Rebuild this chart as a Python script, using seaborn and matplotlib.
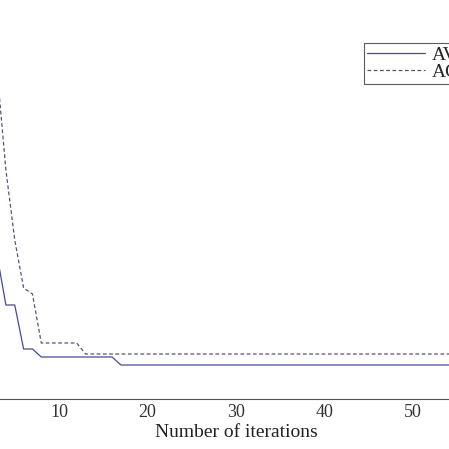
import matplotlib
matplotlib.use("Agg")
import matplotlib.pyplot as plt
import seaborn as sns
import pandas as pd
from matplotlib.lines import Line2D

iters = list(range(1, 61))
avns = [200, 180, 145, 95, 95, 51, 51, 43, 43, 43, 43, 43, 43, 43, 43, 43] + [35] * 44
aca = [420, 390, 330, 230, 160, 112, 106, 57, 57, 57, 57, 57] + [46] * 48

df = pd.DataFrame({"it": iters * 2, "val": avns + aca,
                   "alg": ["AVNS"] * 60 + ["ACA"] * 60})

sns.set_style("white")
plt.rcParams["font.family"] = ["Liberation Serif", "DejaVu Serif"]

fig = plt.figure(figsize=(4.49, 4.49), dpi=100)
ax = fig.add_axes([-29.5 / 449, 50 / 449, (60 * 8.85) / 449, 449 / 449])
sns.lineplot(data=df, x="it", y="val", hue="alg", style="alg",
             palette={"AVNS": "#4848a0", "ACA": "#555570"},
             dashes={"AVNS": "", "ACA": (3, 2)}, linewidth=0.9, ax=ax, legend=False)
ax.set_xlim(0, 60)
ax.set_ylim(1, 450)
ax.set_xticks([10, 20, 30, 40, 50, 60])
ax.set_yticks([])
ax.tick_params(axis="x", direction="in", length=4, labelsize=13, colors="#333333")
ax.set_xlabel("Number of iterations", fontsize=14, color="#222222", labelpad=2)
ax.set_ylabel("")
for s in ax.spines.values():
    s.set_color("#555555")
    s.set_linewidth(0.8)

h = [Line2D([], [], color="#4848a0", lw=0.9),
     Line2D([], [], color="#555570", lw=0.9, ls=(0, (3, 2)))]
leg = fig.legend(h, ["AVNS", "ACA"], loc="upper left", bbox_to_anchor=(364 / 449, 1 - 43 / 449),
                 fontsize=14, frameon=True, fancybox=False, edgecolor="#333333",
                 handlelength=3.0, borderpad=0.15, labelspacing=0.0, handletextpad=0.35,
                 borderaxespad=0)
leg.get_frame().set_linewidth(0.8)
fig.savefig("out.png", dpi=100)
